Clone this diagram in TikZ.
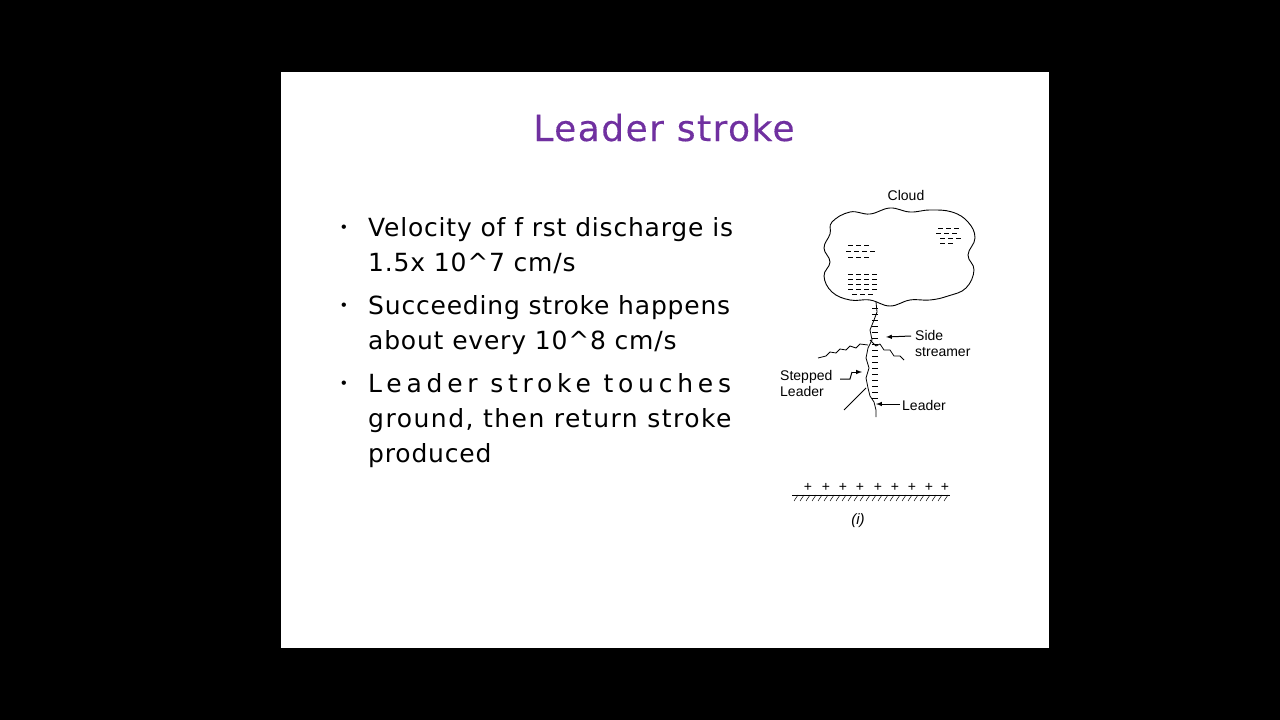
\documentclass[tikz,border=0pt]{standalone}
\usepackage{fontspec}
\setmainfont{Liberation Sans}
\newfontfamily\bodyf{DejaVu Sans}
\begin{document}
\begin{tikzpicture}[x=1pt,y=-1pt,
  body/.style={anchor=base west,font=\bodyf\fontsize{25}{35}\selectfont\addfontfeature{LetterSpace=3.2},inner sep=0},
  bul/.style={anchor=base,font=\fontsize{16}{16}\selectfont,inner sep=0},
  lab/.style={font=\fontsize{14}{16}\selectfont,inner sep=0,align=left},
  bolt/.style={line width=0.8pt,line join=round},
  arr/.style={line width=1pt,-latex}]
\fill[black] (0,0) rectangle (1280,720);
\useasboundingbox (0,0) rectangle (1280,720);
\fill[white] (281,72) rectangle (1049,648);
\node[font=\bodyf\fontsize{36}{40}\selectfont\addfontfeature{LetterSpace=4,FakeBold=0.3},text={rgb,255:red,112;green,48;blue,160},anchor=base] (title) at (664,141) {Leader stroke};
\node[bul] (b1) at (344,232) {•};
\node[body] (t1) at (368,236) {Velocity of f rst discharge is};
\node[body] (t1b) at (368,271) {1.5x 10\^{}7 cm/s};
\node[bul] (b2) at (344,310) {•};
\node[body] (t2) at (368,314) {Succeeding stroke happens};
\node[body] (t2b) at (368,349) {about every 10\^{}8 cm/s};
\node[bul] (b3) at (344,388) {•};
\node[body,font=\bodyf\fontsize{25}{35}\selectfont\addfontfeature{LetterSpace=19}] (t3) at (368,392) {Leader stroke touches};
\node[body,font=\bodyf\fontsize{25}{35}\selectfont\addfontfeature{LetterSpace=6}] (t3b) at (368,427) {ground, then return stroke};
\node[body] (t3c) at (368,462) {produced};
% cloud
\draw[line width=0.9pt] plot[smooth cycle,tension=0.7] coordinates {
 (832,222) (850,212) (870,214) (890,208) (910,212) (930,210) (952,212) (968,222) (975,238)
 (968,255) (974,270) (966,288) (948,296) (930,300) (910,300) (890,306) (870,300) (850,300)
 (832,292) (824,276) (830,262) (824,248) (830,234)};
\node[lab] (cloud) at (906,195) {Cloud};
% charge dashes
\foreach \y/\xa/\n in {245/848/3,251/846/4,257/848/3,274/848/4,279/848/4,284/848/4,289/848/4,294/852/3} {
  \foreach \i in {1,...,\n} \draw[line width=0.6pt] ({\xa+(\i-1)*8},\y) -- ++(5,0);}
\foreach \y/\xa/\n in {228/938/3,233/936/3,238/940/3,243/940/2} {
  \foreach \i in {1,...,\n} \draw[line width=0.6pt] ({\xa+(\i-1)*8},\y) -- ++(5,0);}
% main leader
\draw[bolt] (876,302) -- (877,312) -- (874,320) -- (870,330) -- (872,340) -- (868,348) -- (866,358) -- (869,368) -- (866,378) -- (868,388) -- (870,396) -- (874,402) -- (876,410) -- (876,417);
% left streamer
\draw[bolt] (868,345) -- (860,344) -- (856,348) -- (850,346) -- (846,350) -- (840,349) -- (836,353) -- (830,352) -- (826,356) -- (818,358);
% right streamer
\draw[bolt] (870,340) -- (876,346) -- (880,344) -- (884,350) -- (890,350) -- (894,356) -- (900,356) -- (904,360);
% small branch
\draw[bolt] (866,388) -- (858,396) -- (850,404) -- (844,410);
% dashes along leader
\foreach \y in {308,314,...,398} \draw[line width=0.5pt] (872,\y) -- ++(6,0);
% labels
\node[lab,anchor=west] (side) at (915,343) {Side\\streamer};
\node[lab,anchor=west] (step) at (780,383) {Stepped\\Leader};
\node[lab,anchor=west] (lead) at (902,405) {Leader};
\coordinate (sa) at (886,337);
\coordinate (stp) at (862,372);
\coordinate (la) at (876,404);
\draw[arr] (911,336) -- (sa);
\draw[line width=1pt] (840,379) -- (850,379) -- (852,372);
\draw[arr] (852,372) -- (stp);
\draw[arr] (900,404) -- (la);
% ground
\draw[line width=0.8pt] (792,495) -- (950,495);
\foreach \x in {794,800,...,946} \draw[line width=0.5pt] (\x,501) -- (\x+4,495);
\foreach \x in {808,826,843,860,878,895,912,929,945} \node[font=\fontsize{14}{14}\selectfont,inner sep=0] at (\x,487) {+};
\node[font=\fontsize{15}{16}\selectfont\itshape,inner sep=0] (cap) at (858,521) {(\textit{i})};
\end{tikzpicture}
\end{document}
